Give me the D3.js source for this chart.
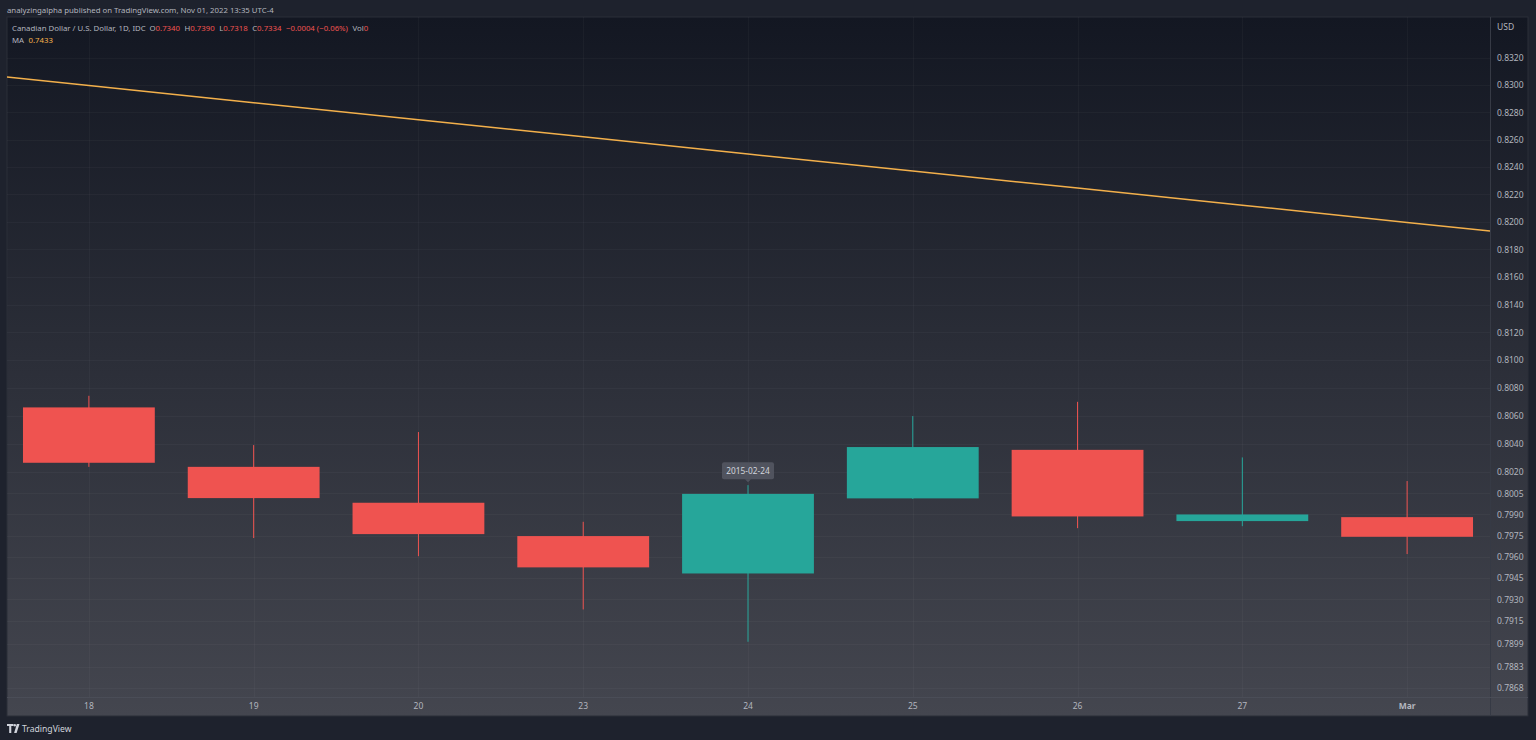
<!DOCTYPE html>
<html><head><meta charset="utf-8">
<script src="https://cdn.jsdelivr.net/npm/d3@7"></script>
<style>html,body{margin:0;padding:0;background:#1e222d;overflow:hidden}svg{display:block}</style>
</head><body>
<svg id="c" width="1536" height="740"></svg>
<script>
// ---- data ----
const dates = ["2015-02-18","2015-02-19","2015-02-20","2015-02-23","2015-02-24","2015-02-25","2015-02-26","2015-02-27","2015-03-02"];
const dayLabels = ["18","19","20","23","24","25","26","27","Mar"];
const opens  = [0.80662,0.80238,0.79983,0.79747,0.79483,0.80014,0.80359,0.79853,0.79881];
const highs  = [0.80745,0.80393,0.80486,0.79848,0.80108,0.80600,0.80702,0.80305,0.80137];
const lows   = [0.80238,0.79733,0.79605,0.79230,0.79003,0.80010,0.79803,0.79817,0.79620];
const closes = [0.80267,0.80016,0.79761,0.79526,0.80046,0.80379,0.79886,0.79900,0.79742];
// MA values: previous bar (off-screen left), the 9 visible bars, next bar (off-screen right)
const maIndex  = [-1,0,1,2,3,4,5,6,7,8,9];
const maValues = [0.83123,0.82997,0.82870,0.82746,0.82621,0.82495,0.82370,0.82246,0.82121,0.81996,0.81872];
const priceTicks = [0.8320,0.8300,0.8280,0.8260,0.8240,0.8220,0.8200,0.8180,0.8160,0.8140,0.8120,0.8100,0.8080,0.8060,0.8040,0.8020,0.8005,0.7990,0.7975,0.7960,0.7945,0.7930,0.7915,0.7899,0.7883,0.7868];
const legendParts = [["Canadian Dollar / U.S. Dollar, 1D, IDC",0,"label"],["O",4,"label"],["0.7340",0,"value"],
  ["H",4.5,"label"],["0.7390",0,"value"],["L",4.5,"label"],["0.7318",0,"value"],["C",4.5,"label"],["0.7334",0,"value"],
  ["\u22120.0004 (\u22120.06%)",4.5,"value"],["Vol",4.5,"label"],["0",0,"value"]];

const UP = "#26a69a", DOWN = "#ef5350", MA_COLOR = "#f3b04b", TXT = "#b2b5be";
const FONT = "'Noto Sans', 'Open Sans', sans-serif";

const svg = d3.select("#c");
const paneL = 7, paneR = 1528, paneT = 17, paneB = 716, axisX = 1490, axisY = 697;

// gradient
const defs = svg.append("defs");
const g = defs.append("linearGradient").attr("id","bg").attr("x1",0).attr("y1",0).attr("x2",0).attr("y2",1);
g.append("stop").attr("offset","0%").attr("stop-color","#131722");
g.append("stop").attr("offset","100%").attr("stop-color","#44464f");
defs.append("clipPath").attr("id","plotclip").append("rect")
  .attr("x",paneL).attr("y",paneT).attr("width",axisX-paneL).attr("height",axisY-paneT);

svg.append("rect").attr("x",paneL).attr("y",paneT).attr("width",paneR-paneL).attr("height",paneB-paneT)
  .attr("fill","url(#bg)").attr("stroke","#2a2e39").attr("stroke-width",1);

// scales
const x = d3.scaleBand().domain(dates).range([6.5,1489.5]).paddingInner(0.2).paddingOuter(0.1);
const step = x.step();
const xc = i => x(dates[0]) + x.bandwidth()/2 + i*step;
const y = d3.scaleLog().domain([0.8320,0.7868]).range([58,688]);

const plot = svg.append("g").attr("clip-path","url(#plotclip)");

// grid
plot.append("g").selectAll("line").data(priceTicks).join("line")
  .attr("x1",paneL).attr("x2",axisX).attr("y1",d=>Math.round(y(d))+0.5).attr("y2",d=>Math.round(y(d))+0.5)
  .attr("stroke","rgba(240,243,250,0.03)");
plot.append("g").selectAll("line").data(dates).join("line")
  .attr("x1",d=>Math.round(x(d)+x.bandwidth()/2)+0.5).attr("x2",d=>Math.round(x(d)+x.bandwidth()/2)+0.5)
  .attr("y1",paneT).attr("y2",axisY).attr("stroke","rgba(240,243,250,0.03)");

// candles
const idx = d3.range(dates.length);
const col = i => closes[i] >= opens[i] ? UP : DOWN;
plot.append("g").selectAll("line").data(idx).join("line")
  .attr("x1",i=>xc(i)).attr("x2",i=>xc(i))
  .attr("y1",i=>y(highs[i])).attr("y2",i=>y(lows[i]))
  .attr("stroke",col).attr("stroke-width",1);
plot.append("g").selectAll("rect").data(idx).join("rect")
  .attr("x",i=>x(dates[i])).attr("width",x.bandwidth())
  .attr("y",i=>y(Math.max(opens[i],closes[i])))
  .attr("height",i=>Math.max(1,y(Math.min(opens[i],closes[i]))-y(Math.max(opens[i],closes[i]))))
  .attr("fill",col);

// MA line
plot.append("path").datum(maIndex.map((k,j)=>[xc(k),y(maValues[j])]))
  .attr("d",d3.line()).attr("fill","none").attr("stroke",MA_COLOR).attr("stroke-width",1.5);

// axis separators
svg.append("line").attr("x1",axisX+0.5).attr("x2",axisX+0.5).attr("y1",paneT).attr("y2",paneB).attr("stroke","#363a45");
svg.append("line").attr("x1",paneL).attr("x2",paneR).attr("y1",axisY+0.5).attr("y2",axisY+0.5).attr("stroke","#4a4d57");

// price axis
const ya = svg.append("g").attr("transform",`translate(${axisX},0)`)
  .call(d3.axisRight(y).tickValues(priceTicks).tickFormat(d3.format(".4f")).tickSize(0).tickPadding(7));
ya.select(".domain").remove();
ya.selectAll("text").attr("fill",TXT).style("font-family",FONT).style("font-size","8.5px");
svg.append("text").attr("x",1497).attr("y",27).attr("dy","0.35em").text("USD")
  .attr("fill",TXT).style("font-family",FONT).style("font-size","8.5px");

// time axis
const xa = svg.append("g").attr("transform",`translate(0,${axisY})`)
  .call(d3.axisBottom(x).tickFormat((d,i)=>dayLabels[i]).tickSize(0).tickPadding(6));
xa.select(".domain").remove();
xa.selectAll("text").attr("fill",TXT).style("font-family",FONT).style("font-size","8.5px")
  .style("font-weight",(d,i)=>dayLabels[i]==="Mar"?"bold":"normal");

// tooltip on 2015-02-24
const ti = dates.indexOf("2015-02-24");
const tx = xc(ti), ty = y(highs[ti]);
const tip = svg.append("g");
tip.append("rect").attr("x",tx-26).attr("y",ty-23).attr("width",52).attr("height",17).attr("rx",2).attr("fill","#50535e");
tip.append("path").attr("d",`M${tx-3},${ty-6}L${tx},${ty-3}L${tx+3},${ty-6}Z`).attr("fill","#50535e");
tip.append("text").attr("x",tx).attr("y",ty-14.5).attr("dy","0.35em").attr("text-anchor","middle")
  .text("2015-02-24").attr("fill","#d1d4dc").style("font-family",FONT).style("font-size","8.3px");

// header
svg.append("text").attr("x",7).attr("y",10).attr("dy","0.35em")
  .text("analyzingalpha published on TradingView.com, Nov 01, 2022 13:35 UTC-4")
  .attr("fill",TXT).style("font-family",FONT).style("font-size","7.8px");

// legend
const leg = svg.append("text").attr("x",12).attr("y",28).attr("dy","0.35em")
  .style("font-family",FONT).style("font-size","7.8px");
legendParts.forEach(p=>leg.append("tspan").text(p[0]).attr("dx",p[1]).attr("fill",p[2]==="value"?DOWN:TXT));
const leg2 = svg.append("text").attr("x",12).attr("y",40).attr("dy","0.35em")
  .style("font-family",FONT).style("font-size","7.8px");
leg2.append("tspan").text("MA").attr("fill",TXT);
leg2.append("tspan").text("0.7433").attr("dx",4.5).attr("fill",MA_COLOR);

// TradingView logo
const logo = svg.append("g").attr("transform","translate(7,724)").attr("fill","#d1d4dc");
logo.append("path").attr("d","M0,0H6.5V2H4.3V9H2.2V2H0Z");
logo.append("circle").attr("cx",7.8).attr("cy",1.2).attr("r",1.2);
logo.append("path").attr("d","M9.8,0H12.5L9.6,9H7.1Z");
svg.append("text").attr("x",22).attr("y",729).attr("dy","0.35em").text("TradingView")
  .attr("fill","#d1d4dc").style("font-family",FONT).style("font-size","8.6px");
</script>
</body></html>
